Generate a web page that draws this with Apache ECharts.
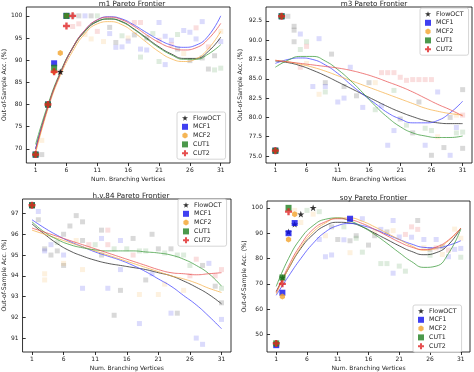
<!DOCTYPE html>
<html><head><meta charset="utf-8">
<script src="https://cdn.jsdelivr.net/npm/echarts@6/dist/echarts.min.js"></script>
<style>html,body{margin:0;padding:0;background:#fff}#c{width:474px;height:372px}</style>
</head><body><div id="c"></div>
<script>
const seriesNames = ['FlowOCT','MCF1','MCF2','CUT1','CUT2'];
const titles = ['m1 Pareto Frontier','m3 Pareto Frontier','h.v.84 Pareto Frontier','soy Pareto Frontier'];
const xTicks = [1,6,11,16,21,26,31];
const fitX = [1,3,5,7,9,11,13,15,17,19,21,23,25,27,29,31];

// ---- m1 ----
const m1YTicks = [70,75,80,85,90,95,100];
const m1Fit = {
  FlowOCT:[70,79.5,87,92.7,96.5,98.7,99.3,98.7,97,95,93,91.4,90.4,90.4,92,95.2],
  MCF1:[70,79.5,87,92.8,96.8,99.1,99.8,99.3,97.9,96.2,94.6,93.4,92.9,93.4,95.5,100],
  MCF2:[69,79,86.5,92,96,98.2,98.7,98,96.2,94,91.9,90.3,89.7,90.3,92.6,96.5],
  CUT1:[71,80,87.3,92.8,96.6,98.8,99.3,98.6,96.9,94.8,92.8,91.2,90.2,90.2,91.4,93.5],
  CUT2:[69.5,79.5,87,92.8,96.8,99.1,99.7,99.1,97.6,95.7,94,92.8,92.3,92.8,94.8,98.3]
};
const m1Pareto = {
  FlowOCT:[[1,68.7],[3,80],[5,87.4]],
  MCF1:[[1,68.7],[3,80],[4,89.3],[6,100]],
  MCF2:[[1,68.7],[3,80],[4,87.4],[5,91.6],[6,100]],
  CUT1:[[1,68.7],[3,80],[4,88.3],[6,100]],
  CUT2:[[1,68.7],[3,80],[4,87.4],[6,97.7],[7,100]]
};
const m1Runs = {
  FlowOCT:[[2,68.7],[5,87.3],[7,100],[8,100],[10,100],[13,97.4],[14,94],[17,95.7],[19,95],[24,92.5],[26,89.9],[28,90.5],[29,88],[30,91]],
  MCF1:[[9,100],[13,96],[14,92.9],[15,93],[16,94.3],[18,92.5],[19,92.3],[21,98.5],[22,89],[22,95.4],[23,94.5],[25,96.7],[26,96.3],[27,94.8],[28,98.7],[31,94.2]],
  MCF2:[[2,71.9],[9,95.8],[10,94.8],[12,94.2],[16,95],[25,91.5],[31,96.5]],
  CUT1:[[11,100],[15,95.5],[18,90.7],[20,96],[21,89.7],[24,95.8],[30,87.8],[31,88.2]],
  CUT2:[[7,97.6],[8,98.2],[11,96.5],[17,98.5],[18,98.5],[21,94.5],[23,93.5],[27,97.3],[29,93]]
};

// ---- m3 ----
const m3YTicks = [75,77.5,80,82.5,85,87.5,90,92.5];
const m3Fit = {
  FlowOCT:[87.3,87.1,86.7,86.1,85.4,84.6,83.8,83,82.2,81.4,80.7,80.1,79.6,79.3,79.2,79.2],
  MCF1:[87,87.5,87.7,87.5,86.8,85.7,84.3,83,81.8,80.6,79.8,79.3,79.3,79.6,80.6,82.1],
  MCF2:[87.4,87.2,86.9,86.5,86,85.4,84.8,84.2,83.6,83,82.4,81.8,81.2,80.8,80.5,80.3],
  CUT1:[86.5,87.4,87.9,87.9,87.3,86.2,84.8,83.2,81.5,80,78.8,78,77.6,77.4,77.4,77.6],
  CUT2:[87.4,87.2,87,86.8,86.6,86.4,86.1,85.7,85.2,84.6,84,83.3,82.5,81.7,81,80.2]
};
const m3Pareto = {
  FlowOCT:[[1,75.7],[2,93.1]], MCF1:[[1,75.7],[2,93.1]], MCF2:[[1,75.7],[2,93.1]],
  CUT1:[[1,75.7],[2,93.1]], CUT2:[[1,75.7],[2,93.1]]
};
const m3Runs = {
  FlowOCT:[[3,93.1],[4,91.8],[4,91.3],[4,89.8],[9,84.5],[10,88.2],[12,84],[14,82.8],[16,84.5],[21,79.8],[23,78],[24,82],[26,75.1],[28,76.1],[29,80],[31,83.6],[31,76]],
  MCF1:[[5,90.8],[8,90.2],[7,84],[9,84],[11,82],[12,82.5],[13,86.5],[15,81.3],[18,81.5],[19,76.4],[20,78.3],[25,76.4],[27,83.3],[29,75.1],[30,78.7]],
  MCF2:[[8,83],[6,87],[17,84.5],[27,77.5],[30,80.3]],
  CUT1:[[5,88.8],[6,89.8],[9,83.3],[17,81],[20,83.5],[22,79],[25,78.6],[26,78.3],[30,78],[31,78.1]],
  CUT2:[[6,89.2],[5,86.5],[18,85.8],[19,85.8],[20,85.8],[21,85.2],[22,84.8],[23,84.9],[24,84.9],[25,84.9],[26,84.9],[31,80.3]]
};

// ---- h.v.84 ----
const hvYTicks = [91,92,93,94,95,96,97];
const hvFit = {
  FlowOCT:[96.5,96,95.55,95.2,94.95,94.75,94.6,94.5,94.4,94.3,94.15,94,93.75,93.45,93.1,92.65],
  MCF1:[96.7,96.3,95.95,95.65,95.4,95.15,94.95,94.75,94.5,94.2,93.85,93.5,93.05,92.6,92.05,91.45],
  MCF2:[96.2,96,95.8,95.6,95.4,95.2,95,94.8,94.6,94.4,94.2,94,93.85,93.65,93.4,93.2],
  CUT1:[96.6,96.1,95.75,95.5,95.35,95.25,95.2,95.2,95.2,95.15,95.1,95,94.8,94.5,94.1,93.5],
  CUT2:[96.3,96.1,95.9,95.7,95.5,95.3,95.1,94.9,94.7,94.5,94.3,94.15,94.1,94.05,94.1,94.15]
};
const hvPareto = {
  FlowOCT:[[1,97.4]], MCF1:[[1,97.4]], MCF2:[[1,97.4]], CUT1:[[1,97.4]], CUT2:[[1,97.4]]
};
const hvRuns = {
  FlowOCT:[[2,96.7],[3,95.3],[4,95],[5,95.2],[6,96],[6,94.5],[7,96.4],[8,96.9],[9,96.6],[9,95.7],[12,96.2],[12,95],[14,92.1],[15,93.3],[17,95.8],[19,93.8],[20,96],[21,95.3],[23,95.3],[24,92.2],[28,94.5],[30,93.5],[31,92.7]],
  MCF1:[[2,97.1],[3,95.2],[4,95.5],[6,95],[9,93.4],[12,95.8],[13,93.4],[15,95.7],[15,94.3],[18,91.7],[20,94.1],[23,92.2],[27,91],[28,90.7],[29,94.6],[31,91.9]],
  MCF2:[[3,93.8],[3,94.1],[6,94.6],[8,95.7],[9,94.3],[18,93.1],[21,93.1],[22,93.6],[25,93.3]],
  CUT1:[[5,95.6],[11,95.5],[14,95.3],[16,95.3],[18,95.2],[19,95.2],[22,95.1],[24,95],[25,95],[26,94.5],[31,93.4]],
  CUT2:[[10,95.5],[13,95.5],[13,96.2],[17,95],[26,94],[27,94.8],[30,94],[31,94.3]]
};

// ---- soy ----
const soyYTicks = [50,60,70,80,90,100];
const soyFit = {
  FlowOCT:[67,76,84,89.5,93,94.3,94,92.5,90,87.5,85,82.8,81.5,82.3,85.5,92],
  MCF1:[65.5,73,80,86,90.5,93,93.8,93,91.5,89.5,87.5,85.7,84.4,84.2,85.2,87],
  MCF2:[66,76,84.5,90.5,94,96,96,94.7,92.5,90,87.5,85,83.3,84,87,92],
  CUT1:[69,80,88,93,95.5,96,94.8,92.5,89.5,86,82.3,78.8,76.5,77,82,91.5],
  CUT2:[66.5,77,85.5,91.5,94.5,95.7,95.3,93.8,91.5,89,86.5,84.5,83.5,84.5,87.3,92]
};
const soyPareto = {
  FlowOCT:[[1,46.5],[2,72.5],[3,90.5],[4,93.5],[5,97.5],[7,100]],
  MCF1:[[1,45.8],[2,66.5],[3,90],[4,94],[13,95.7]],
  MCF2:[[1,46.5],[2,65],[3,87.5],[4,97.5]],
  CUT1:[[1,46.5],[2,72.5],[3,100]],
  CUT2:[[1,46.5],[2,70],[3,98.5]]
};
const soyRuns = {
  FlowOCT:[[10,92.5],[11,87.5],[13,87],[14,89],[16,85.3],[17,89],[19,90.5],[24,95],[26,83.5],[28,84.6]],
  MCF1:[[8,87.5],[9,80.7],[10,81.4],[12,87.4],[15,95.7],[18,91.5],[20,74.2],[20,95],[21,88.5],[23,88.4],[25,87.5],[27,87.5],[29,80.7],[30,83.6],[31,84]],
  MCF2:[[4,99],[5,94.2],[7,97.5],[9,89],[13,82.3],[17,90.5],[20,91],[25,84.3],[28,81.6],[30,91.6],[31,88]],
  CUT1:[[6,99],[8,98.5],[12,92.5],[14,88],[15,82.5],[18,78],[19,78],[21,77],[22,75],[26,81.3],[31,80.5]],
  CUT2:[[22,89.5],[23,92.5],[24,91.5],[27,84.2],[29,83.3]]
};

// ---------- styling / layout ----------
const colors = ['#000000','#1010ee','#f2a32a','#1f7f1f','#e02424'];
const lineColors = ['#222222','#4040ff','#f5b04a','#3a9a3a','#e85050'];
const markers = [
  'path://M50,0L61.8,35.3L98.9,35.3L68.8,57.1L80.3,92.3L50,70.5L19.7,92.3L31.2,57.1L1.1,35.3L38.2,35.3Z',
  'rect',
  'path://M5,0L9.33,2.5L9.33,7.5L5,10L0.67,7.5L0.67,2.5Z',
  'rect',
  'path://M3.3,0H6.7V3.3H10V6.7H6.7V10H3.3V6.7H0V3.3H3.3Z'
];
const markerSizes = [7,6,6,6,7];

const panels = [
  {fit:m1Fit, pareto:m1Pareto, runs:m1Runs, yTicks:m1YTicks, ymin:66.8, ymax:102, dec:0,
   grid:{left:24,top:7,width:206,height:156}, nameGap:17, legend:{left:177,top:112}},
  {fit:m3Fit, pareto:m3Pareto, runs:m3Runs, yTicks:m3YTicks, ymin:74.1, ymax:94.3, dec:1,
   grid:{left:266,top:7,width:206,height:156}, nameGap:23, legend:{left:420,top:8}},
  {fit:hvFit, pareto:hvPareto, runs:hvRuns, yTicks:hvYTicks, ymin:90.33, ymax:97.7, dec:0,
   grid:{left:21,top:199,width:210,height:155}, nameGap:15, legend:{left:178,top:199}},
  {fit:soyFit, pareto:soyPareto, runs:soyRuns, yTicks:soyYTicks, ymin:43.1, ymax:102.7, dec:0,
   grid:{left:267,top:201,width:203,height:153}, nameGap:20, legend:{left:413,top:305}}
];

const FONT = 'DejaVu Sans';
const grids=[], xAxes=[], yAxes=[], series=[], legends=[], titleArr=[];
panels.forEach((p,i)=>{
  grids.push(Object.assign({show:true, borderColor:'#000', borderWidth:0.8, containLabel:false}, p.grid));
  xAxes.push({type:'value', gridIndex:i, min:-0.5, max:32.5,
    name:'Num. Branching Vertices', nameLocation:'middle', nameGap:13,
    nameTextStyle:{fontSize:6, fontFamily:FONT, color:'#222'},
    axisLine:{show:false}, splitLine:{show:false},
    axisTick:{show:true, length:3, customValues:xTicks, lineStyle:{color:'#000',width:0.8}},
    axisLabel:{fontSize:6, fontFamily:FONT, color:'#222', margin:4, customValues:xTicks}});
  yAxes.push({type:'value', gridIndex:i, min:p.ymin, max:p.ymax,
    name:'Out-of-Sample Acc. (%)', nameLocation:'middle', nameGap:p.nameGap,
    nameTextStyle:{fontSize:6.2, fontFamily:FONT, color:'#222'},
    axisLine:{show:false}, splitLine:{show:false},
    axisTick:{show:true, length:3, customValues:p.yTicks, lineStyle:{color:'#000',width:0.8}},
    axisLabel:{fontSize:6, fontFamily:FONT, color:'#222', margin:4, customValues:p.yTicks,
      formatter:(v)=>Number(v).toFixed(p.dec)}});
  titleArr.push({text:titles[i], left:p.grid.left+p.grid.width/2, top:p.grid.top-11, textAlign:'center',
    textStyle:{fontSize:7.2, fontWeight:'normal', fontFamily:FONT, color:'#222'}});
  seriesNames.forEach((n,k)=>{
    series.push({type:'scatter', name:n+' runs', xAxisIndex:i, yAxisIndex:i, data:p.runs[n],
      symbol:'rect', symbolSize:5, silent:true, z:1, itemStyle:{color:colors[k], opacity:0.15}});
    series.push({type:'line', name:n+' fit', xAxisIndex:i, yAxisIndex:i,
      data:fitX.map((x,j)=>[x,p.fit[n][j]]), smooth:0.5, showSymbol:false, silent:true, z:2,
      lineStyle:{color:lineColors[k], width:1, opacity:0.75}});
  });
  seriesNames.forEach((n,k)=>{
    series.push({type:'scatter', name:n, xAxisIndex:i, yAxisIndex:i, data:p.pareto[n],
      symbol:markers[k], symbolSize:markerSizes[k], symbolKeepAspect:true, z:3,
      itemStyle:{color:colors[k]}});
  });
  legends.push({data:seriesNames, orient:'vertical', left:p.legend.left, top:p.legend.top,
    itemWidth:6, itemHeight:6, itemGap:2.8, padding:[3,5,3,5],
    borderColor:'#cccccc', borderWidth:0.8, borderRadius:2, backgroundColor:'rgba(255,255,255,0.85)',
    textStyle:{fontSize:6.3, fontFamily:FONT, color:'#222'}, selectedMode:false});
});

const chart = echarts.init(document.getElementById('c'), null, {renderer:'canvas'});
chart.setOption({animation:false, backgroundColor:'#fff', title:titleArr, grid:grids, xAxis:xAxes, yAxis:yAxes, legend:legends, series:series});
</script></body></html>
